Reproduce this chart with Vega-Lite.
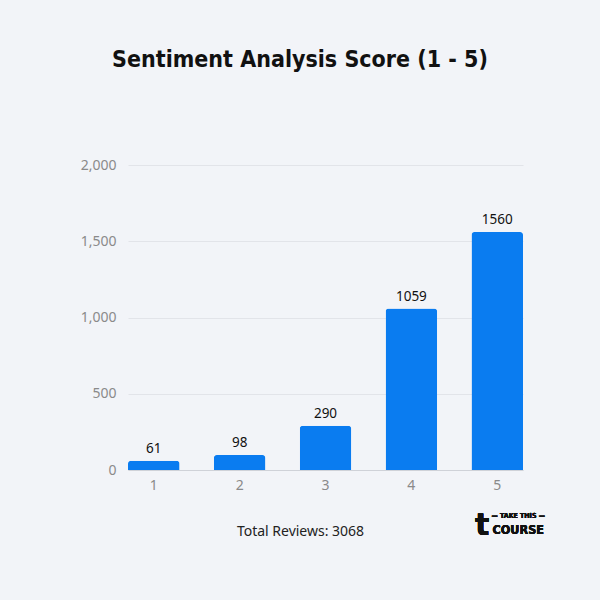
{
  "$schema": "https://vega.github.io/schema/vega-lite/v6.json",
  "width": 395,
  "height": 305,
  "autosize": "none",
  "padding": {"left": 128, "top": 165, "right": 77, "bottom": 130},
  "background": "#f2f4f8",
  "title": {
    "text": "Sentiment Analysis Score (1 - 5)",
    "font": "DejaVu Sans Condensed",
    "fontSize": 23,
    "fontWeight": "bold",
    "color": "#111111",
    "anchor": "middle",
    "dx": -25.5,
    "offset": 86
  },
  "config": {"view": {"stroke": null}},
  "data": {"values": [
    {"score": "1", "count": 61},
    {"score": "2", "count": 98},
    {"score": "3", "count": 290},
    {"score": "4", "count": 1059},
    {"score": "5", "count": 1560}
  ]},
  "encoding": {
    "x": {
      "field": "score", "type": "nominal",
      "scale": {"paddingInner": 0.4, "paddingOuter": 0},
      "axis": {
        "labelAngle": 0, "labelColor": "#8a8a8a", "labelFontSize": 14, "labelFont": "Noto Sans",
        "labelPadding": 8, "ticks": false, "domainColor": "#cfd2d8",
        "title": "Total Reviews: 3068", "titleFont": "Noto Sans", "titleFontSize": 14,
        "titleFontWeight": "normal", "titleColor": "#222222",
        "titleX": 172, "titleY": 61, "titleAlign": "center", "titleBaseline": "middle"
      }
    },
    "y": {
      "field": "count", "type": "quantitative",
      "scale": {"domain": [0, 2000], "nice": false},
      "axis": {
        "values": [0, 500, 1000, 1500, 2000], "format": ",.0f",
        "labelColor": "#8a8a8a", "labelFontSize": 14, "labelFont": "Noto Sans", "labelPadding": 12,
        "domain": false, "ticks": false, "gridColor": "#e2e4e9", "title": null
      }
    }
  },
  "layer": [
    {"mark": {"type": "bar", "color": "#0a7cf0", "cornerRadiusTopLeft": 3, "cornerRadiusTopRight": 3}},
    {"mark": {"type": "text", "baseline": "bottom", "dy": -5, "fontSize": 13.5, "font": "Noto Sans", "color": "#111111"},
     "encoding": {"text": {"field": "count", "type": "quantitative"}}},
    {"mark": {"type": "text", "text": "t", "font": "DejaVu Sans", "fontWeight": "bold", "fontSize": 30, "color": "#111111", "align": "center", "baseline": "middle", "dx": -15},
     "encoding": {"x": {"datum": "5"}, "y": {"datum": -365}}},
    {"mark": {"type": "text", "text": "— TAKE THIS —", "font": "DejaVu Sans Condensed", "fontWeight": "bold", "fontSize": 7, "color": "#111111", "align": "center", "baseline": "middle", "dx": 21},
     "encoding": {"x": {"datum": "5"}, "y": {"datum": -302}}},
    {"mark": {"type": "text", "text": "COURSE", "font": "DejaVu Sans Condensed", "fontWeight": "bold", "fontSize": 12.5, "color": "#111111", "align": "center", "baseline": "middle", "dx": 21},
     "encoding": {"x": {"datum": "5"}, "y": {"datum": -393}}}
  ]
}
